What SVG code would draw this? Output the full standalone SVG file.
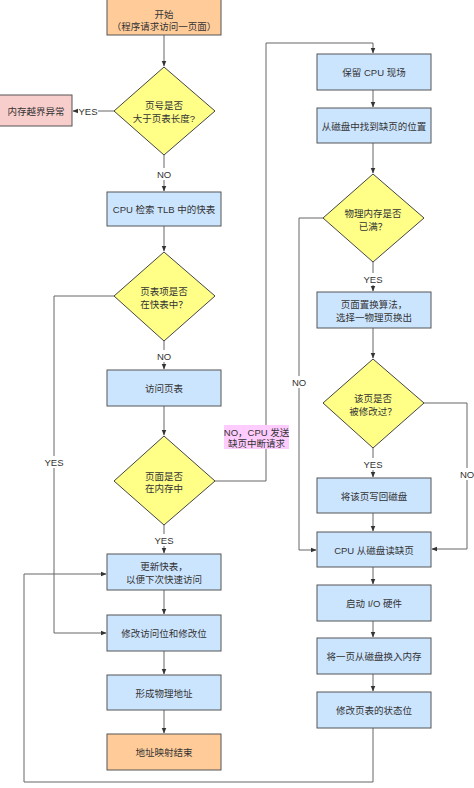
<svg xmlns="http://www.w3.org/2000/svg" width="474" height="788" viewBox="0 0 474 788">
<defs>
<marker id="arr" viewBox="0 0 10 10" refX="9" refY="5" markerWidth="6" markerHeight="6" orient="auto" markerUnits="userSpaceOnUse">
<path d="M0,1 L10,5 L0,9 Z" fill="#333"/>
</marker>
<style>
text{font-family:"Liberation Sans","Noto Sans CJK SC",sans-serif;font-size:9.5px;fill:#333;text-anchor:middle;dominant-baseline:central}
.box{fill:#cce5ff;stroke:#555;stroke-width:1}
.org{fill:#ffcc99;stroke:#555;stroke-width:1}
.red{fill:#f8cecc;stroke:#555;stroke-width:1}
.dia{fill:#ffff88;stroke:#444;stroke-width:1}
.ln{fill:none;stroke:#666;stroke-width:1}
.lbg{fill:#fff}
.pbg{fill:#ffccff}
</style>
</defs>
<rect width="474" height="788" fill="#fff"/>

<g id="connectors">
<path class="ln" d="M164,35 V66" marker-end="url(#arr)"/>
<path class="ln" d="M114,111 H73" marker-end="url(#arr)"/>
<path class="ln" d="M164,155 V191" marker-end="url(#arr)"/>
<path class="ln" d="M164,226 V251" marker-end="url(#arr)"/>
<path class="ln" d="M114,296 H54 V633 H106" marker-end="url(#arr)"/>
<path class="ln" d="M164,341 V369" marker-end="url(#arr)"/>
<path class="ln" d="M164,406 V435" marker-end="url(#arr)"/>
<path class="ln" d="M164,525 V553" marker-end="url(#arr)"/>
<path class="ln" d="M215,481 H266 V43 H373 V53" marker-end="url(#arr)"/>
<path class="ln" d="M164,590 V614" marker-end="url(#arr)"/>
<path class="ln" d="M164,651 V674" marker-end="url(#arr)"/>
<path class="ln" d="M164,710 V733" marker-end="url(#arr)"/>
<path class="ln" d="M373,90 V107" marker-end="url(#arr)"/>
<path class="ln" d="M373,143 V173" marker-end="url(#arr)"/>
<path class="ln" d="M373,262 V291" marker-end="url(#arr)"/>
<path class="ln" d="M323,218 H299 V550 H316" marker-end="url(#arr)"/>
<path class="ln" d="M373,328 V358" marker-end="url(#arr)"/>
<path class="ln" d="M373,448 V477" marker-end="url(#arr)"/>
<path class="ln" d="M424,403 H467 V549 H432" marker-end="url(#arr)"/>
<path class="ln" d="M373,513 V531" marker-end="url(#arr)"/>
<path class="ln" d="M373,567 V584" marker-end="url(#arr)"/>
<path class="ln" d="M373,621 V637" marker-end="url(#arr)"/>
<path class="ln" d="M373,674 V691" marker-end="url(#arr)"/>
<path class="ln" d="M373,728 V782 H24 V574 H106" marker-end="url(#arr)"/>

<rect class="lbg" x="78" y="105" width="20" height="12"/>
<text x="88" y="111">YES</text>
<rect class="lbg" x="155" y="168" width="18" height="12"/>
<text x="164" y="174">NO</text>
<rect class="lbg" x="44" y="456" width="21" height="12"/>
<text x="54" y="462">YES</text>
<rect class="lbg" x="155" y="350" width="18" height="12"/>
<text x="164" y="356">NO</text>
<rect class="lbg" x="153" y="534" width="22" height="12"/>
<text x="164" y="540">YES</text>
<rect class="pbg" x="224" y="425" width="65" height="24"/>
<text x="256.5" y="432">NO，CPU 发送</text>
<text x="256.5" y="443">缺页中断请求</text>
<rect class="lbg" x="362" y="273" width="22" height="12"/>
<text x="373" y="279">YES</text>
<rect class="lbg" x="290" y="376" width="18" height="12"/>
<text x="299" y="382">NO</text>
<rect class="lbg" x="362" y="458" width="22" height="12"/>
<text x="373" y="464">YES</text>
<rect class="lbg" x="458" y="468" width="16" height="12"/>
<text x="467" y="474">NO</text>
</g>

<g id="start"><rect class="org" x="107" y="-1" width="114" height="36"/><text x="164" y="14">开始</text><text x="164" y="26">（程序请求访问一页面）</text></g>
<g id="d1"><polygon class="dia" points="164,67 215,111 164,155 114,111"/><text x="164" y="105">页号是否</text><text x="164" y="118">大于页表长度?</text></g>
<g id="overflow"><rect class="red" x="-1" y="95" width="73" height="31"/><text x="36" y="111">内存越界异常</text></g>
<g id="tlb"><rect class="box" x="107" y="192" width="114" height="34"/><text x="164" y="209">CPU 检索 TLB 中的快表</text></g>
<g id="d2"><polygon class="dia" points="164,252 215,296 164,341 114,296"/><text x="164" y="291">页表项是否</text><text x="164" y="304">在快表中？</text></g>
<g id="visit"><rect class="box" x="107" y="370" width="114" height="36"/><text x="164" y="388">访问页表</text></g>
<g id="d3"><polygon class="dia" points="164,436 215,481 164,525 114,481"/><text x="164" y="476">页面是否</text><text x="164" y="488">在内存中</text></g>
<g id="update"><rect class="box" x="107" y="554" width="114" height="36"/><text x="164" y="566">更新快表，</text><text x="164" y="579">以便下次快速访问</text></g>
<g id="modify"><rect class="box" x="107" y="615" width="114" height="36"/><text x="164" y="633">修改访问位和修改位</text></g>
<g id="phys"><rect class="box" x="107" y="675" width="114" height="35"/><text x="164" y="693">形成物理地址</text></g>
<g id="end"><rect class="org" x="107" y="734" width="114" height="36"/><text x="164" y="752">地址映射结束</text></g>

<g id="save"><rect class="box" x="317" y="54" width="114" height="36"/><text x="374" y="72">保留 CPU 现场</text></g>
<g id="find"><rect class="box" x="317" y="108" width="114" height="35"/><text x="374" y="126">从磁盘中找到缺页的位置</text></g>
<g id="d4"><polygon class="dia" points="373,174 424,218 373,262 323,218"/><text x="373" y="213">物理内存是否</text><text x="373" y="226">已满？</text></g>
<g id="replace"><rect class="box" x="317" y="292" width="114" height="36"/><text x="374" y="304">页面置换算法，</text><text x="374" y="317">选择一物理页换出</text></g>
<g id="d5"><polygon class="dia" points="373,359 424,403 373,448 323,403"/><text x="373" y="398">该页是否</text><text x="373" y="411">被修改过？</text></g>
<g id="writeback"><rect class="box" x="317" y="478" width="114" height="35"/><text x="374" y="496">将该页写回磁盘</text></g>
<g id="read"><rect class="box" x="317" y="532" width="114" height="35"/><text x="374" y="550">CPU 从磁盘读缺页</text></g>
<g id="io"><rect class="box" x="317" y="585" width="114" height="36"/><text x="374" y="603">启动 I/O 硬件</text></g>
<g id="swapin"><rect class="box" x="317" y="638" width="114" height="36"/><text x="374" y="656">将一页从磁盘换入内存</text></g>
<g id="status"><rect class="box" x="317" y="692" width="114" height="36"/><text x="374" y="710">修改页表的状态位</text></g>
</svg>
